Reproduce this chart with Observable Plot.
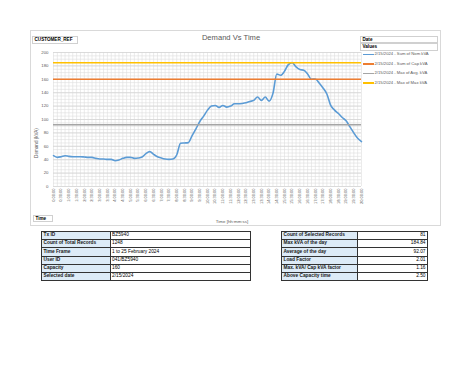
<!DOCTYPE html>
<html><head><meta charset="utf-8">
<script src="https://cdn.jsdelivr.net/npm/d3@7"></script>
<script src="https://cdn.jsdelivr.net/npm/@observablehq/plot@0.6"></script>
<style>
body{margin:0;background:#fff;}
#root{position:relative;width:474px;height:366px;overflow:hidden;font-family:"Liberation Sans",Arial,sans-serif;color:#000;}
.abs{position:absolute;}
#frame{left:30px;top:30px;width:411px;height:196px;border:1px solid #d9d9d9;box-sizing:border-box;}
.box{border:1px solid #d0d0d0;background:#fff;box-sizing:border-box;font-size:4.6px;line-height:1;padding:1px 1.5px;white-space:nowrap;}
#title{left:130px;width:202px;top:33px;text-align:center;font-size:7.6px;color:#595959;}
#ytitle{left:36px;top:143px;transform:translate(-50%,-50%) rotate(-90deg);font-size:4.6px;color:#595959;white-space:nowrap;}
#xtitle{left:232px;top:219px;transform:translateX(-50%);font-size:4.4px;color:#595959;white-space:nowrap;}
.leg{font-size:4.2px;color:#595959;white-space:nowrap;line-height:1;}
.legline{width:11px;height:1.4px;}
table{border-collapse:collapse;font-size:4.8px;table-layout:fixed;}
td{border:0.8px solid #333;height:7.2px;padding:0 1.5px;line-height:1;white-space:nowrap;overflow:hidden;}
td.lab{background:#ddebf7;font-weight:bold;color:#1a1a1a;}
table{border:1.2px solid #111;}
</style></head><body><div id="root"></div>
<script>
const times = ["0:00:00","0:15:00","0:30:00","0:45:00","1:00:00","1:15:00","1:30:00","1:45:00","2:00:00","2:15:00","2:30:00","2:45:00","3:00:00","3:15:00","3:30:00","3:45:00","4:00:00","4:15:00","4:30:00","4:45:00","5:00:00","5:15:00","5:30:00","5:45:00","6:00:00","6:15:00","6:30:00","6:45:00","7:00:00","7:15:00","7:30:00","7:45:00","8:00:00","8:15:00","8:30:00","8:45:00","9:00:00","9:15:00","9:30:00","9:45:00","10:00:00","10:15:00","10:30:00","10:45:00","11:00:00","11:15:00","11:30:00","11:45:00","12:00:00","12:15:00","12:30:00","12:45:00","13:00:00","13:15:00","13:30:00","13:45:00","14:00:00","14:15:00","14:30:00","14:45:00","15:00:00","15:15:00","15:30:00","15:45:00","16:00:00","16:15:00","16:30:00","16:45:00","17:00:00","17:15:00","17:30:00","17:45:00","18:00:00","18:15:00","18:30:00","18:45:00","19:00:00","19:15:00","19:30:00","19:45:00","20:00:00"];
const nomKVA = [46,43.5,44.5,46,45,44.5,44.5,44.5,44,43.5,43.5,42,41,41,40.5,40.5,38.5,39.5,42,43.5,43.5,42,42.5,44,49,52,48,44.5,42.5,41,40.5,41,47,64.5,65,65.5,76,86,97,105,114,120,121,118,121,118.5,120,123.5,123.5,124,125,127,128.5,133.5,128.5,133.5,127.5,139,168,166,172,182,184.84,178.5,174.5,173.5,168,160,160.5,154.5,147,138,121,114,109,103,98,89,80,72,67];
const capKVA = 160;
const avgKVA = 92.07;
const maxKVA = 184.84;
const seriesNames = ["2/15/2024 - Sum of Nom kVA","2/15/2024 - Sum of Cap kVA","2/15/2024 - Max of Avg. kVA","2/15/2024 - Max of Max kVA"];
const seriesColors = ["#5b9bd5","#ed7d31","#a5a5a5","#ffc000"];
const yTicks = [0,20,40,60,80,100,120,140,160,180,200];
const yMinor = [0,5,10,15,20,25,30,35,40,45,50,55,60,65,70,75,80,85,90,95,100,105,110,115,120,125,130,135,140,145,150,155,160,165,170,175,180,185,190,195,200];
const leftLabels = ["Tx ID","Count of Total Records","Time Frame","User ID","Capacity","Selected date"];
const leftValues = ["BZ5940","1248","1 to 25 February 2024","041/BZ5940","160","2/15/2024"];
const rightLabels = ["Count of Selected Records","Max kVA of the day","Average of the day","Load Factor","Max. kVA/ Cap kVA factor","Above Capacity time"];
const rightValues = ["81","184.84","92.07","2.01","1.16","2.50"];

const root = document.getElementById("root");
function add(html){root.insertAdjacentHTML("beforeend", html);}
add('<div id="frame" class="abs"></div>');

const data = nomKVA.map((v,i)=>({i, t: times[i], v}));
const idx = times.map((t,i)=>i);
const tickIdx = idx.filter(i=>i%2===0);

const plot = Plot.plot({
  width: 474, height: 230,
  marginLeft: 53, marginRight: 113, marginTop: 52, marginBottom: 44,
  style: {fontFamily: '"Liberation Sans",Arial,sans-serif', fontSize: "4.3px", color: "#595959", background: "transparent", overflow: "visible"},
  x: {type: "linear", domain: [0, times.length-1], axis: null},
  y: {domain: [0, 200], axis: null},
  marks: [
    Plot.ruleY(yMinor, {stroke: "#dedede", strokeWidth: 0.6}),
    Plot.ruleX(idx, {stroke: "#dedede", strokeWidth: 0.6}),
    Plot.ruleY(yTicks, {stroke: "#d4d4d4", strokeWidth: 0.7}),
    Plot.axisY(yTicks, {tickSize: 0, tickPadding: 5, fontSize: "4.3px", fill: "#595959", label: null}),
    Plot.axisX(tickIdx, {tickSize: 0, tickPadding: 2, tickRotate: -90, tickFormat: i => times[i], fontSize: "4px", fill: "#595959", label: null}),
    Plot.line(data, {x: "i", y: "v", stroke: seriesColors[0], strokeWidth: 1.6, curve: "monotone-x"}),
    Plot.ruleY([capKVA], {stroke: seriesColors[1], strokeWidth: 1.5}),
    Plot.ruleY([avgKVA], {stroke: seriesColors[2], strokeWidth: 1.5}),
    Plot.ruleY([maxKVA], {stroke: seriesColors[3], strokeWidth: 1.5})
  ]
});
plot.classList.add("abs");
plot.style.left = "0px"; plot.style.top = "0px";
root.appendChild(plot);

add('<div id="title" class="abs">Demand Vs Time</div>');
add('<div class="abs box" style="left:32px;top:36px;width:46px;height:7.5px;font-weight:bold;">CUSTOMER_REF</div>');
add('<div class="abs box" style="left:360px;top:36px;width:78px;height:7px;font-weight:bold;">Date</div>');
add('<div class="abs box" style="left:360px;top:42.5px;width:78px;height:8px;font-weight:bold;">Values</div>');
add('<div class="abs box" style="left:33px;top:215px;width:20px;height:7px;font-weight:bold;">Time</div>');
add('<div id="ytitle" class="abs">Demand (kVA)</div>');
add('<div id="xtitle" class="abs">Time [hh:mm:ss]</div>');
seriesNames.forEach((n,k)=>{
  const y = 54.6 + k*9.5;
  add(`<div class="abs legline" style="left:362.5px;top:${y-0.7}px;background:${seriesColors[k]}"></div>`);
  add(`<div class="abs leg" style="left:374.5px;top:${y-2.2}px;">${n}</div>`);
});
function table(left, w1, w2, labels, values, alignRight){
  let h = `<table class="abs" style="left:${left}px;top:231px;width:${w1+w2}px"><colgroup><col style="width:${w1}px"><col style="width:${w2}px"></colgroup>`;
  labels.forEach((l,i)=>{ h += `<tr><td class="lab">${l}</td><td style="text-align:${alignRight?'right':'left'}">${values[i]}</td></tr>`; });
  add(h + "</table>");
}
table(41, 68.5, 140, leftLabels, leftValues, false);
table(281, 76, 70, rightLabels, rightValues, true);
</script></body></html>
